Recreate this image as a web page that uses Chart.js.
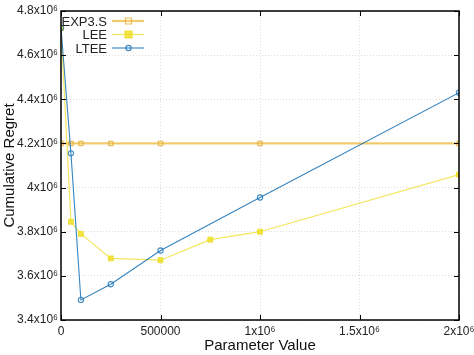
<!DOCTYPE html>
<html>
<head>
<meta charset="utf-8">
<script src="https://cdn.jsdelivr.net/npm/chart.js@4"></script>
<style>
html,body{margin:0;padding:0;background:#fff;overflow:hidden;}
#wrap{position:relative;width:474px;height:355px;}
</style>
</head>
<body>
<div id="wrap"><canvas id="c"></canvas></div>
<script>
const xTicks = [0, 500000, 1000000, 1500000, 2000000];
const xTickLabels = ['0', '500000', '1x10\u2076', '1.5x10\u2076', '2x10\u2076'];
const yTicks = [3.4e6, 3.6e6, 3.8e6, 4.0e6, 4.2e6, 4.4e6, 4.6e6, 4.8e6];
const yTickLabels = ['3.4x10\u2076', '3.6x10\u2076', '3.8x10\u2076', '4x10\u2076', '4.2x10\u2076', '4.4x10\u2076', '4.6x10\u2076', '4.8x10\u2076'];

const exp3sX = [0, 50000, 100000, 250000, 500000, 1000000, 2000000];
const exp3sY = [4.2e6, 4.2e6, 4.2e6, 4.2e6, 4.2e6, 4.2e6, 4.2e6];
const leeX = [0, 50000, 100000, 250000, 500000, 750000, 1000000, 2000000];
const leeY = [4.723e6, 3.845e6, 3.790e6, 3.679e6, 3.671e6, 3.764e6, 3.800e6, 4.059e6];
const lteeX = [0, 50000, 100000, 250000, 500000, 1000000, 2000000];
const lteeY = [4.723e6, 4.155e6, 3.491e6, 3.562e6, 3.715e6, 3.955e6, 4.430e6];

const seriesNames = ['EXP3.S', 'LEE', 'LTEE'];

function pts(xs, ys){ return xs.map((x,i)=>({x:x, y:ys[i]})); }

const FONT = '"Liberation Sans", Arial, sans-serif';

const legendPlugin = {
  id: 'gpLegend',
  afterDatasetsDraw(chart){
    const ctx = chart.ctx;
    const a = chart.chartArea;
    ctx.save();
    ctx.font = '13px ' + FONT;
    ctx.textAlign = 'right';
    ctx.textBaseline = 'middle';
    chart.data.datasets.forEach((ds, i) => {
      const y = a.top + 10 + i * 13.5;
      ctx.fillStyle = '#222';
      ctx.fillText(ds.label, a.left + 46, y + 1);
      const x0 = a.left + 51, x1 = a.left + 83;
      ctx.strokeStyle = ds.borderColor;
      ctx.lineWidth = ds.borderWidth;
      ctx.beginPath(); ctx.moveTo(x0, y); ctx.lineTo(x1, y); ctx.stroke();
      const cx = a.left + 67.5;
      ctx.lineWidth = 1.2;
      ctx.strokeStyle = ds.pointBorderColor;
      ctx.fillStyle = ds.pointBackgroundColor;
      const r = ds.pointRadius;
      ctx.beginPath();
      if (ds.pointStyle === 'circle') ctx.arc(cx, y, r, 0, Math.PI*2);
      else ctx.rect(cx - r, y - r, 2*r, 2*r);
      ctx.fill(); ctx.stroke();
    });
    ctx.restore();
  }
};

const framePlugin = {
  id: 'frame',
  afterDraw(chart){
    const ctx = chart.ctx, a = chart.chartArea;
    const xs = chart.scales.x, ys = chart.scales.y;
    ctx.save();
    ctx.strokeStyle = '#000';
    ctx.lineWidth = 1.5;
    ctx.strokeRect(a.left, a.top, a.right - a.left, a.bottom - a.top);
    ctx.lineWidth = 1;
    const t = 5;
    xTicks.forEach(v => {
      const p = Math.round(xs.getPixelForValue(v)) + 0.5;
      ctx.beginPath();
      ctx.moveTo(p, a.bottom); ctx.lineTo(p, a.bottom - t);
      ctx.moveTo(p, a.top); ctx.lineTo(p, a.top + t);
      ctx.stroke();
    });
    yTicks.forEach(v => {
      const p = Math.round(ys.getPixelForValue(v)) + 0.5;
      ctx.beginPath();
      ctx.moveTo(a.left, p); ctx.lineTo(a.left + t, p);
      ctx.moveTo(a.right, p); ctx.lineTo(a.right - t, p);
      ctx.stroke();
    });
    ctx.restore();
  }
};

new Chart(document.getElementById('c'), {
  type: 'line',
  data: {
    datasets: [
      { label: seriesNames[0], data: pts(exp3sX, exp3sY), borderColor: 'rgba(237,177,32,0.65)', borderWidth: 2.2,
        pointStyle: 'rect', pointRadius: 3, pointBorderWidth: 1.2, pointBorderColor: 'rgba(230,170,40,0.75)', pointBackgroundColor: 'rgba(255,255,255,0)', tension: 0, order: 3 },
      { label: seriesNames[1], data: pts(leeX, leeY), borderColor: 'rgba(238,222,40,0.75)', borderWidth: 1.2,
        pointStyle: 'rect', pointRadius: 3.5, pointBorderWidth: 1, pointBorderColor: 'rgba(238,222,40,0.85)', pointBackgroundColor: 'rgba(238,222,40,0.85)', tension: 0, order: 2 },
      { label: seriesNames[2], data: pts(lteeX, lteeY), borderColor: 'rgba(20,110,180,0.85)', borderWidth: 1.1,
        pointStyle: 'circle', pointRadius: 2.6, pointBorderWidth: 1.1, pointBorderColor: 'rgba(20,110,180,0.8)', pointBackgroundColor: 'rgba(255,255,255,0)', tension: 0, order: 1 }
    ]
  },
  options: {
    responsive: true,
    maintainAspectRatio: false,
    animation: false,
    layout: { padding: { left: 0, right: 15, top: 11, bottom: 0 } },
    plugins: { legend: { display: false }, tooltip: { enabled: false } },
    scales: {
      x: {
        type: 'linear', min: 0, max: 2000000,
        afterBuildTicks(s){ s.ticks = xTicks.map(v => ({value: v})); },
        afterFit(s){ s.height = 35; s.paddingLeft = 0; s.paddingRight = 0; },
        ticks: { color: '#222', font: { family: FONT, size: 12 }, padding: 4, maxRotation: 0, autoSkip: false,
          callback: (v) => { const i = xTicks.indexOf(v); return i >= 0 ? xTickLabels[i] : ''; } },
        grid: { color: '#dcdcdc', lineWidth: 1, drawTicks: false },
        border: { display: false, dash: [1,2] },
        title: { display: true, text: 'Parameter Value', color: '#111', font: { family: FONT, size: 15 }, padding: { top: 0, bottom: 0 } }
      },
      y: {
        type: 'linear', min: 3.4e6, max: 4.8e6,
        afterBuildTicks(s){ s.ticks = yTicks.map(v => ({value: v})); },
        afterFit(s){ s.width = 61; s.paddingTop = 0; s.paddingBottom = 0; },
        ticks: { color: '#222', font: { family: FONT, size: 12 }, padding: 3, autoSkip: false,
          callback: (v) => { const i = yTicks.findIndex(t => Math.abs(t - v) < 1); return i >= 0 ? yTickLabels[i] : ''; } },
        grid: { color: '#dcdcdc', lineWidth: 1, drawTicks: false },
        border: { display: false, dash: [1,2] },
        title: { display: true, text: 'Cumulative Regret', color: '#111', font: { family: FONT, size: 15 }, padding: { top: 1, bottom: 0 } }
      }
    }
  },
  plugins: [legendPlugin, framePlugin]
});
</script>
</body>
</html>
